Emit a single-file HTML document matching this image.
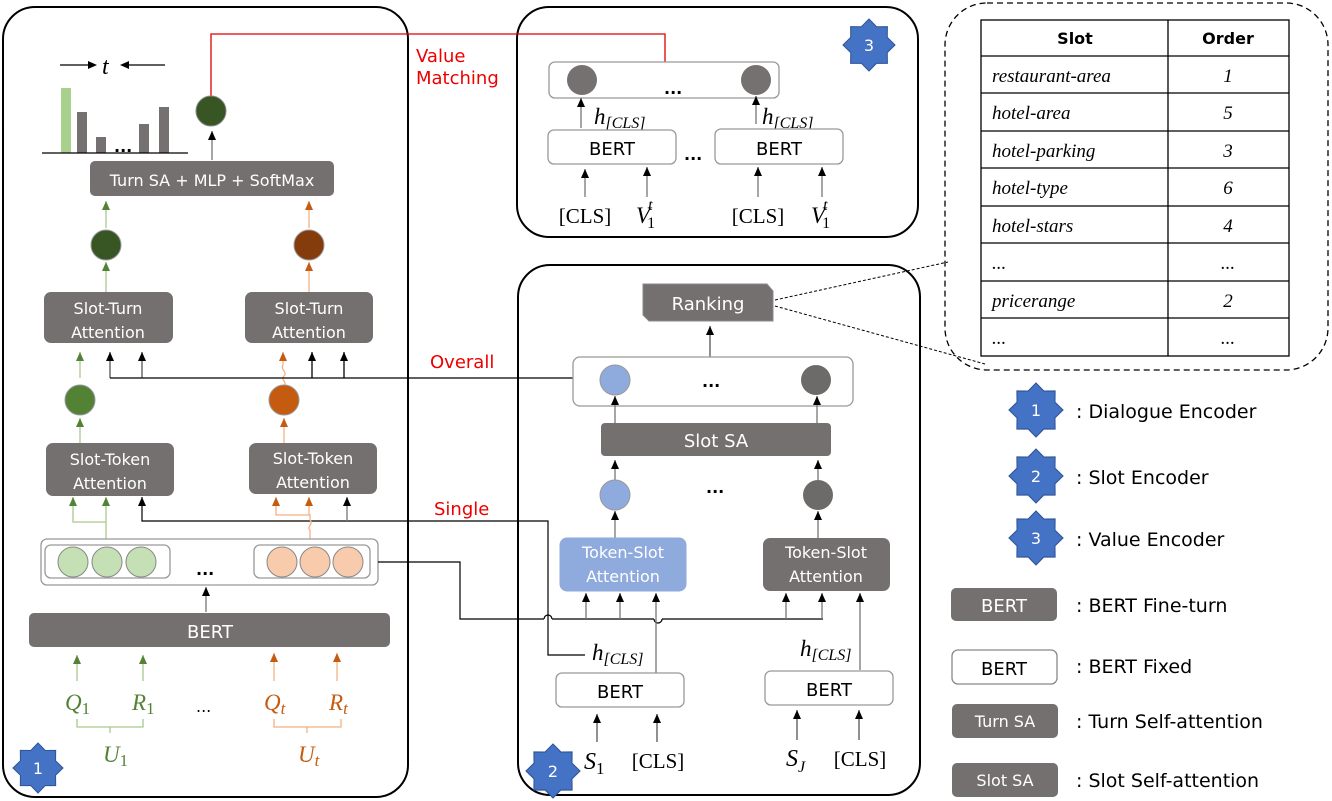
<!DOCTYPE html>
<html><head><meta charset="utf-8"><style>
html,body{margin:0;padding:0;background:#fff}
svg{display:block}
.s{font-family:"DejaVu Sans","Liberation Sans",sans-serif}
.m{font-family:"Liberation Serif",serif;font-style:italic}
.r{font-family:"Liberation Serif",serif}
</style></head><body>
<svg width="1332" height="801" viewBox="0 0 1332 801" xmlns="http://www.w3.org/2000/svg">
<defs>
<marker id="ak" markerWidth="10" markerHeight="10" refX="9" refY="5" orient="auto-start-reverse" markerUnits="userSpaceOnUse" viewBox="0 0 10 10"><path d="M0,1 L9,5 L0,9 Z" fill="#000"/></marker>
<marker id="ag" markerWidth="10" markerHeight="10" refX="9" refY="5" orient="auto" markerUnits="userSpaceOnUse" viewBox="0 0 10 10"><path d="M0,1 L9,5 L0,9 Z" fill="#538135"/></marker>
<marker id="ao" markerWidth="10" markerHeight="10" refX="9" refY="5" orient="auto" markerUnits="userSpaceOnUse" viewBox="0 0 10 10"><path d="M0,1 L9,5 L0,9 Z" fill="#c55a11"/></marker>
<polygon id="star" points="1,0 .702,.291 .707,.707 .291,.702 0,1 -.291,.702 -.707,.707 -.702,.291 -1,0 -.702,-.291 -.707,-.707 -.291,-.702 0,-1 .291,-.702 .707,-.707 .702,-.291" fill="#4472c4" stroke="#2f5597" stroke-width=".04"/>
</defs>

<!-- panels -->
<rect x="3" y="7" width="405" height="790" rx="32" fill="none" stroke="#000" stroke-width="2"/>
<rect x="517" y="7" width="401" height="230" rx="32" fill="none" stroke="#000" stroke-width="2"/>
<rect x="518" y="265" width="402" height="530" rx="32" fill="none" stroke="#000" stroke-width="2"/>
<rect x="945" y="3" width="383" height="367" rx="42" fill="none" stroke="#000" stroke-width="1.3" stroke-dasharray="6,4"/>

<!-- LEFT PANEL -->
<line x1="60" y1="65" x2="95" y2="65" stroke="#000" stroke-width="1.3"/>
<path d="M88,61 L97,65 L88,69Z"/>
<text x="102" y="74" class="m" font-size="24">t</text>
<line x1="125" y1="65" x2="165" y2="65" stroke="#000" stroke-width="1.3"/>
<path d="M129,61 L120,65 L129,69Z"/>
<rect x="61" y="88" width="10" height="65" fill="#a9d18e"/>
<rect x="77" y="112" width="10" height="41" fill="#757171"/>
<rect x="96" y="137" width="10" height="16" fill="#757171"/>
<text x="114" y="152" class="s" font-size="16" font-weight="bold">...</text>
<rect x="139" y="124" width="10" height="29" fill="#757171"/>
<rect x="159" y="107" width="10" height="46" fill="#757171"/>
<line x1="42" y1="153" x2="188" y2="153" stroke="#000" stroke-width="1.3"/>

<polyline points="211,96 211,34 665,34 665,62" fill="none" stroke="#d00" stroke-width="1.3"/>
<circle cx="211" cy="111" r="15" fill="#375623" stroke="#888" stroke-width="1"/>
<line x1="212" y1="160" x2="212" y2="131" stroke="#777" stroke-width="1.3" marker-end="url(#ak)"/>

<rect x="90" y="161" width="244" height="35" rx="5" fill="#747070"/>
<text x="212" y="186" class="s" font-size="16" fill="#fff" text-anchor="middle">Turn SA + MLP + SoftMax</text>

<line x1="106" y1="228" x2="106" y2="201" stroke="#a9c98e" stroke-width="1.3" marker-end="url(#ag)"/>
<line x1="309" y1="228" x2="309" y2="201" stroke="#f4b183" stroke-width="1.3" marker-end="url(#ao)"/>
<circle cx="106" cy="245" r="15" fill="#375623" stroke="#999"/>
<circle cx="309" cy="245" r="15" fill="#843c0c" stroke="#999"/>
<line x1="106" y1="292" x2="106" y2="262" stroke="#a9c98e" stroke-width="1.3" marker-end="url(#ag)"/>
<line x1="309" y1="292" x2="309" y2="262" stroke="#f4b183" stroke-width="1.3" marker-end="url(#ao)"/>

<rect x="44" y="292" width="129" height="51" rx="7" fill="#747070"/>
<text x="108" y="314" class="s" font-size="16" fill="#fff" text-anchor="middle">Slot-Turn</text>
<text x="108" y="338" class="s" font-size="16" fill="#fff" text-anchor="middle">Attention</text>
<rect x="245" y="292" width="128" height="51" rx="7" fill="#747070"/>
<text x="309" y="314" class="s" font-size="16" fill="#fff" text-anchor="middle">Slot-Turn</text>
<text x="309" y="338" class="s" font-size="16" fill="#fff" text-anchor="middle">Attention</text>

<line x1="80" y1="378" x2="80" y2="352" stroke="#a9c98e" stroke-width="1.3" marker-end="url(#ag)"/>
<line x1="110" y1="378" x2="110" y2="352" stroke="#555" stroke-width="1.3" marker-end="url(#ak)"/>
<line x1="142" y1="378" x2="142" y2="352" stroke="#555" stroke-width="1.3" marker-end="url(#ak)"/>
<path d="M284,386 C288,382 280,380 284,376 C288,372 280,370 283,365 L283,352" fill="none" stroke="#f4b183" stroke-width="1.3" marker-end="url(#ao)"/>
<line x1="312" y1="378" x2="312" y2="352" stroke="#000" stroke-width="1.3" marker-end="url(#ak)"/>
<line x1="344" y1="378" x2="344" y2="352" stroke="#000" stroke-width="1.3" marker-end="url(#ak)"/>
<line x1="110" y1="378" x2="573" y2="378" stroke="#000" stroke-width="1.2"/>
<text x="430" y="368" class="s" font-size="18" fill="#e00">Overall</text>

<circle cx="80" cy="400" r="15" fill="#538135" stroke="#999"/>
<circle cx="284" cy="400" r="15" fill="#c55a11" stroke="#999"/>
<line x1="80" y1="443" x2="80" y2="418" stroke="#a9c98e" stroke-width="1.3" marker-end="url(#ag)"/>
<line x1="284" y1="443" x2="284" y2="418" stroke="#f4b183" stroke-width="1.3" marker-end="url(#ao)"/>

<rect x="46" y="443" width="128" height="53" rx="7" fill="#747070"/>
<text x="110" y="465" class="s" font-size="16" fill="#fff" text-anchor="middle">Slot-Token</text>
<text x="110" y="489" class="s" font-size="16" fill="#fff" text-anchor="middle">Attention</text>
<rect x="249" y="443" width="128" height="51" rx="7" fill="#747070"/>
<text x="313" y="464" class="s" font-size="16" fill="#fff" text-anchor="middle">Slot-Token</text>
<text x="313" y="488" class="s" font-size="16" fill="#fff" text-anchor="middle">Attention</text>

<polyline points="106,546 106,522 73,522 73,497" fill="none" stroke="#a9c98e" stroke-width="1.3" marker-end="url(#ag)"/>
<line x1="106" y1="522" x2="106" y2="497" stroke="#a9c98e" stroke-width="1.3" marker-end="url(#ag)"/>
<polyline points="142,497 142,521 548,521 548,655 585,655" fill="none" stroke="#000" stroke-width="1.2" marker-start="url(#ak)"/>
<line x1="347" y1="521" x2="347" y2="497" stroke="#777" stroke-width="1.3" marker-end="url(#ak)"/>
<path d="M310,546 L310,530 C306,527 314,524 310,520 L310,515 L276,515 L276,497" fill="none" stroke="#f4b183" stroke-width="1.3" marker-end="url(#ao)"/>
<line x1="309" y1="515" x2="309" y2="497" stroke="#f4b183" stroke-width="1.3" marker-end="url(#ao)"/>
<text x="434" y="515" class="s" font-size="18" fill="#e00">Single</text>

<rect x="41" y="539" width="337" height="46" rx="6" fill="#fff" stroke="#999" stroke-width="1.3"/>
<rect x="45" y="545" width="125" height="33" rx="6" fill="none" stroke="#999" stroke-width="1.3"/>
<rect x="254" y="545" width="116" height="33" rx="6" fill="none" stroke="#999" stroke-width="1.3"/>
<circle cx="73" cy="562" r="15" fill="#c5e0b4" stroke="#888"/>
<circle cx="107" cy="562" r="15" fill="#c5e0b4" stroke="#888"/>
<circle cx="141" cy="562" r="15" fill="#c5e0b4" stroke="#888"/>
<circle cx="282" cy="562" r="15" fill="#f8cbad" stroke="#888"/>
<circle cx="315" cy="562" r="15" fill="#f8cbad" stroke="#888"/>
<circle cx="348" cy="562" r="15" fill="#f8cbad" stroke="#888"/>
<text x="196" y="575" class="s" font-size="16" font-weight="bold">...</text>
<polyline points="378,562 460,562 460,619 544,619" fill="none" stroke="#000" stroke-width="1.2"/>
<path d="M544,619 A4,4 0 0 1 552,619" fill="none" stroke="#000" stroke-width="1.2"/>
<polyline points="552,619 654,619" fill="none" stroke="#000" stroke-width="1.2"/>
<path d="M654,619 A4,4 0 0 0 662,619" fill="none" stroke="#000" stroke-width="1.2"/>
<polyline points="662,619 823,619" fill="none" stroke="#000" stroke-width="1.2"/>

<line x1="206" y1="612" x2="206" y2="587" stroke="#777" stroke-width="1.3" marker-end="url(#ak)"/>
<rect x="29" y="613" width="361" height="34" rx="5" fill="#747070"/>
<text x="210" y="638" class="s" font-size="18" fill="#fff" text-anchor="middle">BERT</text>

<line x1="77" y1="681" x2="77" y2="655" stroke="#a9c98e" stroke-width="1.3" marker-end="url(#ag)"/>
<line x1="143" y1="681" x2="143" y2="655" stroke="#a9c98e" stroke-width="1.3" marker-end="url(#ag)"/>
<line x1="274" y1="681" x2="274" y2="653" stroke="#f4b183" stroke-width="1.3" marker-end="url(#ao)"/>
<line x1="337" y1="681" x2="337" y2="653" stroke="#f4b183" stroke-width="1.3" marker-end="url(#ao)"/>
<text x="65" y="710" class="m" font-size="23" fill="#538135">Q<tspan font-style="normal" font-size="17" dy="4">1</tspan></text>
<text x="132" y="710" class="m" font-size="23" fill="#538135">R<tspan font-style="normal" font-size="17" dy="4">1</tspan></text>
<text x="196" y="712" class="s" font-size="16">...</text>
<text x="264" y="710" class="m" font-size="23" fill="#c55a11">Q<tspan font-size="17" dy="4">t</tspan></text>
<text x="329" y="710" class="m" font-size="23" fill="#c55a11">R<tspan font-size="17" dy="4">t</tspan></text>
<path d="M77,719 v8 h66 v-8 M110,727 v6" fill="none" stroke="#a9c98e" stroke-width="1.3"/>
<path d="M274,719 v8 h67 v-8 M307,727 v6" fill="none" stroke="#f4b183" stroke-width="1.3"/>
<text x="103" y="762" class="m" font-size="23" fill="#538135">U<tspan font-style="normal" font-size="17" dy="4">1</tspan></text>
<text x="298" y="762" class="m" font-size="23" fill="#c55a11">U<tspan font-size="17" dy="4">t</tspan></text>
<use href="#star" transform="translate(38,768) scale(25)"/>
<text x="38" y="774" class="s" font-size="16" fill="#fff" text-anchor="middle">1</text>

<!-- TOP MIDDLE -->
<rect x="549" y="62" width="230" height="36" rx="6" fill="#fff" stroke="#999" stroke-width="1.3"/>
<circle cx="582" cy="80" r="15" fill="#757171"/>
<circle cx="756" cy="80" r="15" fill="#757171"/>
<text x="664" y="94" class="s" font-size="16" font-weight="bold">...</text>
<line x1="581" y1="128" x2="581" y2="98" stroke="#777" stroke-width="1.3" marker-end="url(#ak)"/>
<line x1="756" y1="124" x2="756" y2="96" stroke="#777" stroke-width="1.3" marker-end="url(#ak)"/>
<text x="594" y="124" class="m" font-size="23">h<tspan font-size="16" dy="4">[CLS]</tspan></text>
<text x="762" y="124" class="m" font-size="23">h<tspan font-size="16" dy="4">[CLS]</tspan></text>
<rect x="548" y="130" width="128" height="34" rx="6" fill="#fff" stroke="#999" stroke-width="1.3"/>
<text x="612" y="155" class="s" font-size="18" text-anchor="middle">BERT</text>
<rect x="715" y="129" width="128" height="35" rx="6" fill="#fff" stroke="#999" stroke-width="1.3"/>
<text x="779" y="155" class="s" font-size="18" text-anchor="middle">BERT</text>
<text x="684" y="160" class="s" font-size="16" font-weight="bold">...</text>
<line x1="585" y1="197" x2="585" y2="169" stroke="#777" stroke-width="1.3" marker-end="url(#ak)"/>
<line x1="647" y1="197" x2="647" y2="167" stroke="#777" stroke-width="1.3" marker-end="url(#ak)"/>
<line x1="758" y1="197" x2="758" y2="167" stroke="#777" stroke-width="1.3" marker-end="url(#ak)"/>
<line x1="822" y1="197" x2="822" y2="167" stroke="#777" stroke-width="1.3" marker-end="url(#ak)"/>
<text x="585" y="223" class="r" font-size="21" text-anchor="middle">[CLS]</text>
<text x="636" y="223" class="m" font-size="23">V<tspan font-style="normal" font-size="16" dx="-3" dy="5">1</tspan><tspan font-size="16" dx="-7" dy="-18">t</tspan></text>
<text x="758" y="223" class="r" font-size="21" text-anchor="middle">[CLS]</text>
<text x="811" y="223" class="m" font-size="23">V<tspan font-style="normal" font-size="16" dx="-3" dy="5">1</tspan><tspan font-size="16" dx="-7" dy="-18">t</tspan></text>
<use href="#star" transform="translate(869,45) scale(26)"/>
<text x="869" y="51" class="s" font-size="16" fill="#fff" text-anchor="middle">3</text>
<text x="416" y="62" class="s" font-size="18" fill="#e00">Value</text>
<text x="416" y="84" class="s" font-size="18" fill="#e00">Matching</text>

<!-- BOTTOM MIDDLE -->
<polygon points="643,284 767,284 773,291 773,321 649,321 643,315" fill="#747070" stroke="#888"/>
<text x="708" y="310" class="s" font-size="18" fill="#fff" text-anchor="middle">Ranking</text>
<line x1="710" y1="357" x2="710" y2="326" stroke="#555" stroke-width="1.3" marker-end="url(#ak)"/>
<line x1="775" y1="300" x2="948" y2="262" stroke="#000" stroke-width="1" stroke-dasharray="3,2"/>
<line x1="775" y1="306" x2="985" y2="364" stroke="#000" stroke-width="1" stroke-dasharray="3,2"/>
<rect x="573" y="357" width="280" height="49" rx="7" fill="#fff" stroke="#999" stroke-width="1.3"/>
<circle cx="615" cy="380" r="15" fill="#8faadc" stroke="#999"/>
<circle cx="816" cy="380" r="15" fill="#6d6a6a"/>
<text x="702" y="387" class="s" font-size="16" font-weight="bold">...</text>
<line x1="615" y1="423" x2="615" y2="396" stroke="#777" stroke-width="1.3" marker-end="url(#ak)"/>
<line x1="817" y1="423" x2="817" y2="396" stroke="#777" stroke-width="1.3" marker-end="url(#ak)"/>
<rect x="601" y="423" width="230" height="33" rx="4" fill="#747070"/>
<text x="716" y="447" class="s" font-size="18" fill="#fff" text-anchor="middle">Slot SA</text>
<line x1="615" y1="480" x2="615" y2="460" stroke="#777" stroke-width="1.3" marker-end="url(#ak)"/>
<line x1="818" y1="480" x2="818" y2="460" stroke="#777" stroke-width="1.3" marker-end="url(#ak)"/>
<text x="706" y="493" class="s" font-size="16" font-weight="bold">...</text>
<circle cx="615" cy="495" r="15" fill="#8faadc" stroke="#999"/>
<circle cx="818" cy="495" r="15" fill="#6d6a6a"/>
<line x1="615" y1="538" x2="615" y2="511" stroke="#777" stroke-width="1.3" marker-end="url(#ak)"/>
<line x1="818" y1="538" x2="818" y2="511" stroke="#777" stroke-width="1.3" marker-end="url(#ak)"/>
<rect x="560" y="538" width="126" height="53" rx="7" fill="#8faadc" stroke="#8faadc"/>
<text x="623" y="558" class="s" font-size="16" fill="#fff" text-anchor="middle">Token-Slot</text>
<text x="623" y="582" class="s" font-size="16" fill="#fff" text-anchor="middle">Attention</text>
<rect x="763" y="538" width="127" height="53" rx="7" fill="#747070"/>
<text x="826" y="558" class="s" font-size="16" fill="#fff" text-anchor="middle">Token-Slot</text>
<text x="826" y="582" class="s" font-size="16" fill="#fff" text-anchor="middle">Attention</text>
<line x1="586" y1="619" x2="586" y2="593" stroke="#777" stroke-width="1.3" marker-end="url(#ak)"/>
<line x1="620" y1="619" x2="620" y2="593" stroke="#777" stroke-width="1.3" marker-end="url(#ak)"/>
<line x1="656" y1="673" x2="656" y2="593" stroke="#777" stroke-width="1.3" marker-end="url(#ak)"/>
<line x1="786" y1="619" x2="786" y2="593" stroke="#777" stroke-width="1.3" marker-end="url(#ak)"/>
<line x1="822" y1="619" x2="822" y2="593" stroke="#777" stroke-width="1.3" marker-end="url(#ak)"/>
<line x1="860" y1="670" x2="860" y2="593" stroke="#777" stroke-width="1.3" marker-end="url(#ak)"/>
<text x="592" y="660" class="m" font-size="23">h<tspan font-size="16" dy="4">[CLS]</tspan></text>
<text x="800" y="656" class="m" font-size="23">h<tspan font-size="16" dy="4">[CLS]</tspan></text>
<rect x="556" y="673" width="128" height="34" rx="6" fill="#fff" stroke="#999" stroke-width="1.3"/>
<text x="620" y="698" class="s" font-size="18" text-anchor="middle">BERT</text>
<rect x="765" y="671" width="128" height="34" rx="6" fill="#fff" stroke="#999" stroke-width="1.3"/>
<text x="829" y="696" class="s" font-size="18" text-anchor="middle">BERT</text>
<line x1="597" y1="742" x2="597" y2="714" stroke="#555" stroke-width="1.3" marker-end="url(#ak)"/>
<line x1="657" y1="742" x2="657" y2="714" stroke="#555" stroke-width="1.3" marker-end="url(#ak)"/>
<line x1="797" y1="740" x2="797" y2="710" stroke="#555" stroke-width="1.3" marker-end="url(#ak)"/>
<line x1="859" y1="740" x2="859" y2="710" stroke="#555" stroke-width="1.3" marker-end="url(#ak)"/>
<text x="584" y="769" class="m" font-size="24">S<tspan font-style="normal" font-size="17" dy="5">1</tspan></text>
<text x="658" y="768" class="r" font-size="21" text-anchor="middle">[CLS]</text>
<text x="786" y="766" class="m" font-size="24">S<tspan font-size="16" dy="6">J</tspan></text>
<text x="860" y="766" class="r" font-size="21" text-anchor="middle">[CLS]</text>
<use href="#star" transform="translate(553,771) scale(27)"/>
<text x="553" y="777" class="s" font-size="16" fill="#fff" text-anchor="middle">2</text>

<!-- TABLE -->
<g stroke="#000" stroke-width="1.3" fill="none">
<rect x="981" y="20" width="308" height="336"/>
<line x1="1168" y1="20" x2="1168" y2="356"/>
<line x1="981" y1="56" x2="1289" y2="56"/>
<line x1="981" y1="93" x2="1289" y2="93"/>
<line x1="981" y1="131" x2="1289" y2="131"/>
<line x1="981" y1="168" x2="1289" y2="168"/>
<line x1="981" y1="206" x2="1289" y2="206"/>
<line x1="981" y1="243" x2="1289" y2="243"/>
<line x1="981" y1="281" x2="1289" y2="281"/>
<line x1="981" y1="318" x2="1289" y2="318"/>
</g>
<text x="1075" y="44" class="s" font-size="16" font-weight="bold" text-anchor="middle">Slot</text>
<text x="1228" y="44" class="s" font-size="16" font-weight="bold" text-anchor="middle">Order</text>
<g class="m" font-size="19">
<text x="992" y="82">restaurant-area</text><text x="1228" y="82" text-anchor="middle">1</text>
<text x="992" y="119">hotel-area</text><text x="1228" y="119" text-anchor="middle">5</text>
<text x="992" y="157">hotel-parking</text><text x="1228" y="157" text-anchor="middle">3</text>
<text x="992" y="194">hotel-type</text><text x="1228" y="194" text-anchor="middle">6</text>
<text x="992" y="232">hotel-stars</text><text x="1228" y="232" text-anchor="middle">4</text>
<text x="992" y="269">...</text><text x="1228" y="269" text-anchor="middle">...</text>
<text x="992" y="307">pricerange</text><text x="1228" y="307" text-anchor="middle">2</text>
<text x="992" y="344">...</text><text x="1228" y="344" text-anchor="middle">...</text>
</g>

<!-- LEGEND -->
<use href="#star" transform="translate(1036,410) scale(27)"/>
<text x="1036" y="416" class="s" font-size="16" fill="#fff" text-anchor="middle">1</text>
<text x="1076" y="418" class="s" font-size="19">: Dialogue Encoder</text>
<use href="#star" transform="translate(1036,476) scale(27)"/>
<text x="1036" y="482" class="s" font-size="16" fill="#fff" text-anchor="middle">2</text>
<text x="1076" y="484" class="s" font-size="19">: Slot Encoder</text>
<use href="#star" transform="translate(1036,538) scale(27)"/>
<text x="1036" y="544" class="s" font-size="16" fill="#fff" text-anchor="middle">3</text>
<text x="1076" y="546" class="s" font-size="19">: Value Encoder</text>
<rect x="951" y="588" width="106" height="33" rx="5" fill="#747070"/>
<text x="1004" y="612" class="s" font-size="18" fill="#fff" text-anchor="middle">BERT</text>
<text x="1076" y="612" class="s" font-size="19">: BERT Fine-turn</text>
<rect x="952" y="650" width="105" height="34" rx="6" fill="#fff" stroke="#888" stroke-width="1.3"/>
<text x="1004" y="675" class="s" font-size="18" text-anchor="middle">BERT</text>
<text x="1076" y="673" class="s" font-size="19">: BERT Fixed</text>
<rect x="952" y="704" width="106" height="34" rx="5" fill="#747070"/>
<text x="1005" y="727" class="s" font-size="16" fill="#fff" text-anchor="middle">Turn SA</text>
<text x="1076" y="728" class="s" font-size="19">: Turn Self-attention</text>
<rect x="952" y="763" width="106" height="34" rx="5" fill="#747070"/>
<text x="1005" y="786" class="s" font-size="16" fill="#fff" text-anchor="middle">Slot SA</text>
<text x="1076" y="787" class="s" font-size="19">: Slot Self-attention</text>
</svg>
</body></html>
